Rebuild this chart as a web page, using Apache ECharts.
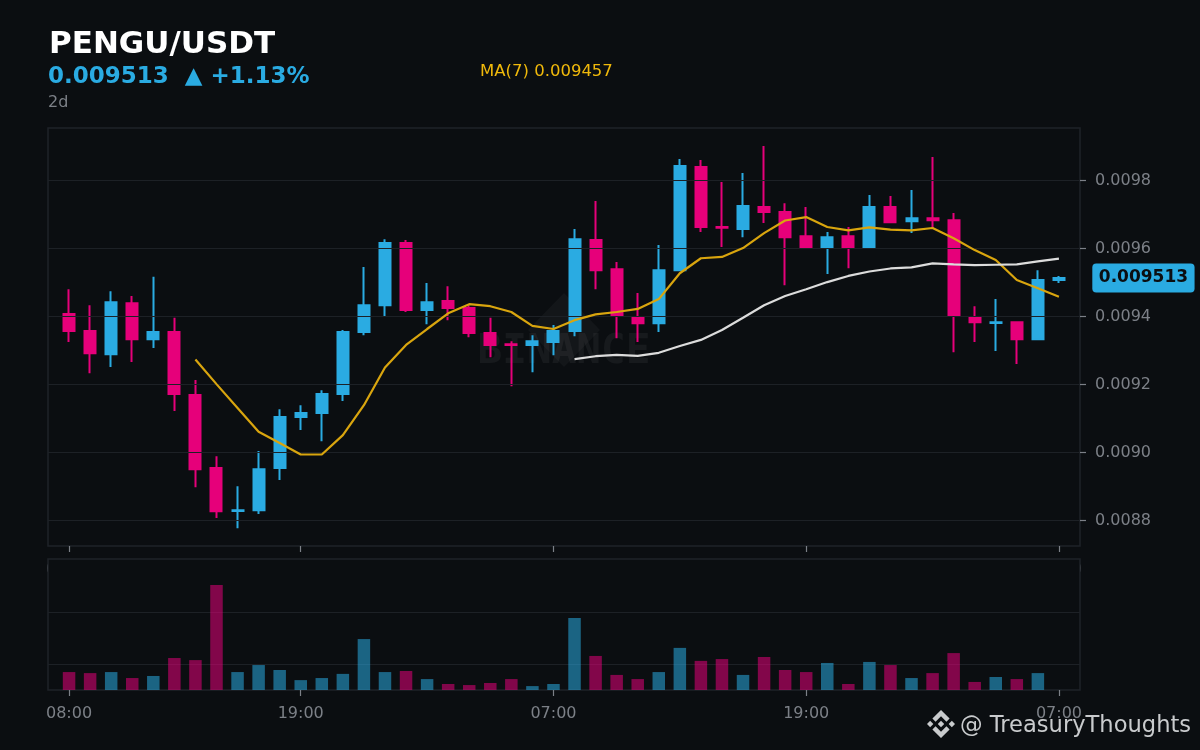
<!DOCTYPE html>
<html><head><meta charset="utf-8">
<style>html,body{margin:0;padding:0;background:#0b0e11}#c{width:1200px;height:750px}</style>
<script src="https://cdn.jsdelivr.net/npm/echarts@6/dist/echarts.min.js"></script>
</head><body><div id="c"></div>
<script>
const opens=[0.009407,0.009357,0.009289,0.009439,0.009333,0.009354,0.009169,0.008954,0.008828,0.00883,0.008954,0.009104,0.009116,0.009172,0.009354,0.009433,0.009616,0.009419,0.009445,0.009425,0.009351,0.009318,0.009316,0.009325,0.009357,0.009625,0.009539,0.009398,0.00938,0.009536,0.009839,0.009663,0.009657,0.009722,0.009707,0.009636,0.009604,0.009636,0.009604,0.009722,0.00968,0.009689,0.009683,0.009398,0.009381,0.009383,0.009333,0.009507];
const closes=[0.009357,0.009292,0.009442,0.009333,0.009354,0.009172,0.008951,0.008827,0.00883,0.008951,0.009104,0.009116,0.009172,0.009354,0.009433,0.009616,0.009419,0.009442,0.009425,0.009351,0.009316,0.009316,0.009327,0.009357,0.009627,0.009536,0.009401,0.00938,0.009536,0.009842,0.009663,0.009661,0.009725,0.009707,0.009633,0.009604,0.009633,0.009601,0.009722,0.009677,0.009689,0.009683,0.009401,0.009383,0.009383,0.009333,0.009507,0.009513];
const lows=[0.009325,0.009233,0.009251,0.009266,0.009307,0.009122,0.008898,0.008807,0.008777,0.008819,0.008919,0.009066,0.009033,0.009151,0.009345,0.009398,0.009413,0.009377,0.009389,0.009339,0.00928,0.009195,0.009236,0.009286,0.009342,0.00948,0.009336,0.009325,0.009354,0.009536,0.009648,0.009604,0.009633,0.009675,0.009492,0.009598,0.009525,0.009542,0.009601,0.009675,0.009645,0.00966,0.009295,0.009325,0.009298,0.00926,0.00933,0.009498];
const highs=[0.00948,0.009433,0.009474,0.00946,0.009517,0.009396,0.009213,0.008989,0.008901,0.009004,0.009127,0.009139,0.009183,0.00936,0.009545,0.009627,0.009625,0.009498,0.009489,0.009433,0.009396,0.009327,0.009345,0.009375,0.009657,0.009739,0.00956,0.009469,0.00961,0.009863,0.00986,0.009795,0.009822,0.009901,0.009733,0.009722,0.009648,0.009663,0.009757,0.009754,0.009772,0.009869,0.009704,0.00943,0.009451,0.009386,0.009536,0.009519];
const volumes=[0.69,0.65,0.69,0.46,0.54,1.23,1.15,4.04,0.69,0.96,0.77,0.38,0.46,0.62,1.96,0.69,0.73,0.42,0.23,0.19,0.27,0.42,0.15,0.23,2.77,1.31,0.58,0.42,0.69,1.62,1.12,1.19,0.58,1.27,0.77,0.69,1.04,0.23,1.08,0.96,0.46,0.65,1.42,0.31,0.5,0.42,0.65,null];
const ma7=[null,null,null,null,null,null,0.0092735,0.009201,0.009131,0.009061,0.009028,0.008994,0.008994,0.009051,0.009139,0.00925,0.009316,0.009363,0.009409,0.009436,0.00943,0.009413,0.009372,0.009363,0.009389,0.009406,0.009413,0.009422,0.009451,0.009527,0.009571,0.009575,0.009601,0.009645,0.009682,0.009692,0.009663,0.009653,0.009662,0.009655,0.009653,0.00966,0.00963,0.009595,0.009566,0.009507,0.009483,0.009458];
const ma25=[null,null,null,null,null,null,null,null,null,null,null,null,null,null,null,null,null,null,null,null,null,null,null,null,0.0092745,0.009283,0.009287,0.009284,0.009293,0.009313,0.009331,0.00936,0.009396,0.009433,0.00946,0.00948,0.009501,0.009519,0.009532,0.009541,0.009544,0.009556,0.009553,0.009551,0.009552,0.009553,0.009562,0.00957];
const priceTicks=[0.0088,0.009,0.0092,0.0094,0.0096,0.0098];
const volumeLines=[1,3];
const timeTickIndex=[1,12,24,36,48];
const timeLabels=['08:00','19:00','07:00','19:00','07:00'];
const lastPrice=0.009513;

const UP='#2aabe2',DOWN='#e6007a',GRID='#1d2126',FRAME='#1f2329',TXT='#7c8087';
const FONT='"DejaVu Sans"';
const categories=Array.from({length:50},(_,i)=>{const k=timeTickIndex.indexOf(i);return k>=0?timeLabels[k]:'t'+i;});
const pad=a=>[null,...a,null];
const candles=pad(opens.map((o,i)=>{const up=closes[i]>=o,col=up?UP:DOWN;
  return {value:[o,closes[i],lows[i],highs[i]],itemStyle:{color:col,color0:col,borderColor:col,borderColor0:col}};
})).map(d=>d===null?{value:['-','-','-','-']}:d);
const volBars=pad(volumes.map((v,i)=>({value:v,itemStyle:{color:closes[i]>=opens[i]?UP:DOWN,opacity:.55}})));
const xBase=(gi,label)=>({type:'category',gridIndex:gi,data:categories,boundaryGap:false,
  axisLine:{show:false},splitLine:{show:false},
  axisTick:{show:true,customValues:timeTickIndex,length:6,lineStyle:{color:TXT,width:1.2}},
  axisLabel:{show:true,customValues:timeTickIndex,color:TXT,fontFamily:FONT,fontSize:16,margin:label,hideOverlap:false}});
const LOGO=[
 [[38.73,53.2],[63.32,28.62],[87.92,53.22],[102.22,38.91],[63.32,0],[24.42,38.9]],
 [[0,63.31],[14.3,49],[28.61,63.31],[14.3,77.61]],
 [[38.73,73.41],[63.32,98],[87.92,73.4],[102.23,87.69],[63.33,126.6],[24.42,87.72]],
 [[98.03,63.31],[112.33,49],[126.64,63.3],[112.33,77.62]],
 [[77.83,63.3],[63.32,48.78],[48.81,63.28],[63.32,77.78]]
];
const ttl=(text,left,top,size,color,weight)=>({text,left,top,padding:0,textStyle:{color,fontFamily:FONT,fontSize:size,fontWeight:weight||'normal',lineHeight:size*1.2}});
const chart=echarts.init(document.getElementById('c'),null,{renderer:'canvas'});
chart.setOption({
  animation:false,backgroundColor:'#0b0e11',
  title:[
    ttl('PENGU/USDT',49,26,31,'#ffffff','bold'),
    ttl('0.009513  ▲ +1.13%',48,63,23,UP,'bold'),
    ttl('2d',48,93,16,TXT),
    ttl('MA(7) 0.009457',480,62,16.5,'#f0b90b'),
    ttl('@ TreasuryThoughts',960,713,22.6,'#c9cbcd')
  ],
  grid:[
    {left:48,right:120,top:128,height:418,show:true,backgroundColor:'transparent',borderColor:FRAME,borderWidth:1.5,z:0},
    {left:48,right:120,top:559,height:131,show:true,backgroundColor:'#0b0e11',borderColor:FRAME,borderWidth:1.5,z:1}
  ],
  xAxis:[Object.assign(xBase(0,16),{z:0}),Object.assign(xBase(1,16),{z:1})],
  yAxis:[
    {type:'value',gridIndex:0,position:'right',min:0.008725,max:0.009954,scale:true,z:2,
      axisLine:{show:false},
      axisTick:{show:true,customValues:priceTicks,length:6,lineStyle:{color:TXT,width:1.2}},
      axisLabel:{show:true,customValues:priceTicks,color:TXT,fontFamily:FONT,fontSize:16,margin:15,padding:[2,0,0,0],formatter:v=>v.toFixed(4),showMinLabel:true,showMaxLabel:true},
      splitLine:{show:true,lineStyle:{color:GRID,width:1.2}}},
    {type:'value',gridIndex:1,min:0,max:5.04,z:1,
      axisLine:{show:false},axisLabel:{show:false},
      axisTick:{show:false,customValues:volumeLines},
      splitLine:{show:true,lineStyle:{color:GRID,width:1.2}}}
  ],
  graphic:[
    {type:'polygon',z:0,silent:true,shape:{points:[[564,293],[600,330],[564,367],[528,330]]},style:{fill:'rgba(255,255,255,0.035)'}},
    {type:'text',z:0,silent:true,x:564,y:352,style:{text:'BINANCE',fill:'rgba(255,255,255,0.05)',font:'bold 41px "DejaVu Sans Mono"',textAlign:'center',textVerticalAlign:'middle'}},
    {type:'group',x:927,y:710,scaleX:28/126.6,scaleY:28/126.6,silent:true,
      children:LOGO.map(p=>({type:'polygon',z:7,silent:true,shape:{points:p},style:{fill:'#c9cbcd'}}))}
  ],
  series:[
    {type:'candlestick',name:'PENGU/USDT',xAxisIndex:0,yAxisIndex:0,z:1,barWidth:11.5,data:candles,itemStyle:{borderWidth:2},clip:false,
      markPoint:{silent:true,symbol:'circle',symbolSize:0,z:8,
        data:[{coord:[48,lastPrice],label:{show:true,formatter:lastPrice.toFixed(6),position:'inside',offset:[84.5,0],
          color:'#0b0e11',fontFamily:FONT,fontWeight:'bold',fontSize:17,backgroundColor:UP,borderRadius:4,padding:[6,6.5,6,6.5]}}]}},
    {type:'line',name:'MA(7)',xAxisIndex:0,yAxisIndex:0,z:3,data:pad(ma7),showSymbol:false,symbol:'none',smooth:false,lineStyle:{color:'#d9a50e',width:2.2}},
    {type:'line',name:'MA(25)',xAxisIndex:0,yAxisIndex:0,z:3,data:pad(ma25),showSymbol:false,symbol:'none',smooth:false,lineStyle:{color:'#dcdcdc',width:2.2}},
    {type:'bar',name:'Volume',xAxisIndex:1,yAxisIndex:1,z:2,barWidth:12.5,data:volBars}
  ]
});
</script></body></html>
